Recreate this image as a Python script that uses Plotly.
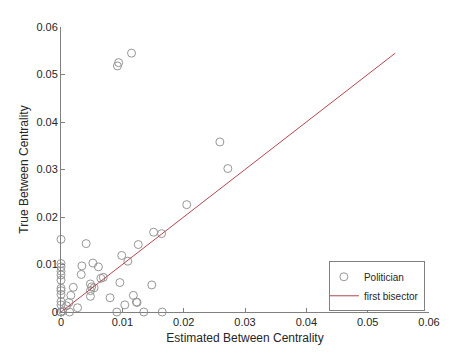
import plotly.graph_objects as go

est = [0.0092, 0.0094, 0.0115, 0.0259, 0.0272, 0.0205, 0.0151, 0.0164, 0.0126, 0.0099,
       0.0109, 0.0041, 0.0, 0.0, 0.0, 0.0, 0.0, 0.0, 0.0, 0.0,
       0.0, 0.0, 0.0, 0.0, 0.0, 0.0, 0.0003, 0.0034, 0.0033, 0.0052,
       0.0061, 0.0065, 0.0069, 0.0048, 0.0050, 0.0054, 0.0048, 0.0048, 0.0020, 0.0016,
       0.0013, 0.0009, 0.0027, 0.0014, 0.0096, 0.0080, 0.0118, 0.0123, 0.0124, 0.0104,
       0.0148, 0.0091, 0.0135, 0.0165]
true = [0.0518, 0.0525, 0.0545, 0.0358, 0.0302, 0.0226, 0.0168, 0.0165, 0.0142, 0.0119,
        0.0107, 0.0144, 0.0153, 0.0102, 0.0095, 0.0086, 0.0078, 0.0067, 0.0050, 0.0045,
        0.0037, 0.0022, 0.0015, 0.0, 0.0, 0.0, 0.0002, 0.0097, 0.0079, 0.0103,
        0.0095, 0.0071, 0.0073, 0.0059, 0.0053, 0.0051, 0.0045, 0.0033, 0.0052, 0.0035,
        0.0020, 0.0013, 0.0009, 0.0, 0.0062, 0.0030, 0.0035, 0.0021, 0.0020, 0.0015,
        0.0057, 0.0, 0.0, 0.0]
bisector = [0.0, 0.0545]
ticks = [0, 0.01, 0.02, 0.03, 0.04, 0.05, 0.06]
tick_text = ["0", "0.01", "0.02", "0.03", "0.04", "0.05", "0.06"]

fig = go.Figure()
fig.add_trace(go.Scatter(
    x=est, y=true, mode="markers", name="Politician", cliponaxis=False,
    marker=dict(symbol="circle-open", size=8, color="rgb(150,150,150)",
                line=dict(width=1, color="rgb(150,150,150)"))))
fig.add_trace(go.Scatter(
    x=bisector, y=bisector, mode="lines", name="first bisector",
    line=dict(color="rgb(180,70,80)", width=1)))

axis_common = dict(range=[0, 0.06], tickvals=ticks, ticktext=tick_text,
                   showgrid=False, zeroline=False, showline=True,
                   linecolor="rgb(128,128,128)", linewidth=1,
                   ticks="inside", ticklen=4, tickcolor="rgb(128,128,128)",
                   tickfont=dict(family="Liberation Sans, Arial", size=11, color="#262626"))

fig.update_xaxes(**axis_common,
                 title=dict(text="Estimated Between Centrality", standoff=6,
                            font=dict(family="Liberation Sans, Arial", size=12, color="#262626")))
fig.update_yaxes(**axis_common,
                 title=dict(text="True Between Centrality", standoff=5,
                            font=dict(family="Liberation Sans, Arial", size=12, color="#262626")))

fig.update_layout(
    width=474, height=355,
    margin=dict(l=61, r=45, t=27, b=39),
    plot_bgcolor="white", paper_bgcolor="white",
    showlegend=True,
    legend=dict(x=0.728, y=0.178, xanchor="left", yanchor="top",
                bordercolor="rgb(128,128,128)", borderwidth=1, bgcolor="white",
                font=dict(family="Liberation Sans, Arial", size=10, color="#262626"),
                tracegroupgap=0, itemwidth=30, indentation=-6),
)

fig.write_html("out.html")
